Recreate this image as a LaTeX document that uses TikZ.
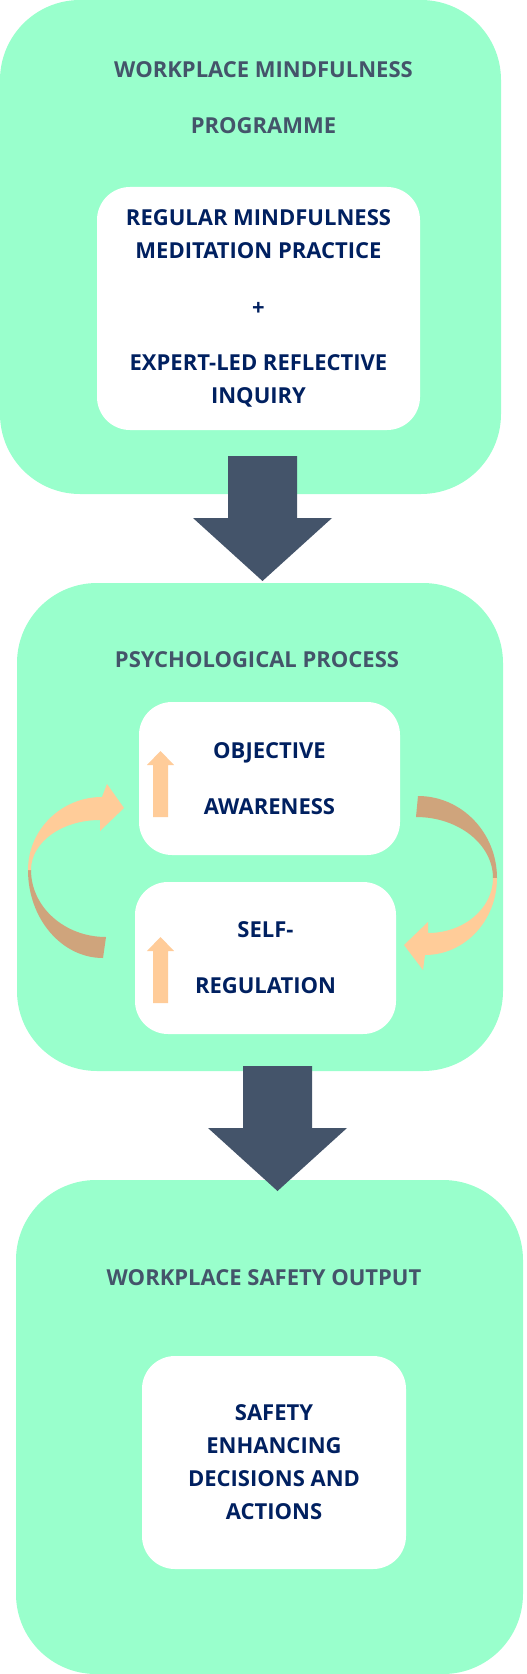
\documentclass[tikz,border=0pt]{standalone}
\usepackage{fontspec}
\setmainfont{Open Sans}
\usetikzlibrary{positioning}
\definecolor{mint}{HTML}{99FFCC}
\definecolor{slate}{HTML}{44546A}
\definecolor{navyblue}{HTML}{002060}
\definecolor{peach}{HTML}{FFCC99}
\definecolor{peachdark}{HTML}{CFA47C}
\tikzset{
  panel/.style={fill=mint, rounded corners=40pt, inner sep=0pt},
  card/.style={fill=white, rounded corners=16.5pt, inner sep=0pt, text=navyblue,
    font=\bfseries\fontsize{11}{16.5}\selectfont, align=center},
  heading/.style={text=slate, font=\bfseries\fontsize{11}{14}\selectfont, align=center},
}
\begin{document}
\begin{tikzpicture}[x=0.5pt,y=-0.5pt]
  \useasboundingbox (0,0) rectangle (526,1674);
  % the three stages
  \node (prog) [panel, minimum width=250.5pt, minimum height=247pt] at (250.5,247) {};
  \node (proc) [panel, minimum width=243pt, minimum height=244pt] at (260,827) {};
  \node (safe) [panel, minimum width=253.5pt, minimum height=247pt] at (269.5,1427) {};
  \node (progtitle) [heading] at (263.5,98) {WORKPLACE MINDFULNESS\\[14pt] PROGRAMME};
  \node (proctitle) [heading] at (257,660) {PSYCHOLOGICAL PROCESS};
  \node (safetitle) [heading] at (264,1278) {WORKPLACE SAFETY OUTPUT};

  \node (practice) [card, minimum width=161.5pt, minimum height=121.5pt] at (258.5,308.5)
    {REGULAR MINDFULNESS\\ MEDITATION PRACTICE\\[12pt] +\\[11pt] EXPERT-LED REFLECTIVE\\ INQUIRY};
  \node (aware) [card, minimum width=130.5pt, minimum height=76.5pt] at (269.5,778.5)
    {OBJECTIVE\\[11.5pt] AWARENESS};
  \node (selfreg) [card, minimum width=130.5pt, minimum height=76pt] at (265.5,958)
    {SELF-\\[11.5pt] REGULATION};
  \node (actions) [card, minimum width=132pt, minimum height=106.5pt] at (274,1462.5)
    {SAFETY\\ ENHANCING\\ DECISIONS AND\\ ACTIONS};

  % down arrows between the stages
  \foreach \x/\t in {262.5/456, 277.5/1066}
    \fill[slate] (\x-34.5,\t) -- (\x+34.5,\t) -- (\x+34.5,\t+62) -- (\x+69.5,\t+62)
      -- (\x,\t+125) -- (\x-69.5,\t+62) -- (\x-34.5,\t+62) -- cycle;

  % small up arrows
  \foreach \y in {751,937}
    \fill[peach] (153,\y+66) -- (153,\y+14) -- (147,\y+14) -- (160.5,\y)
      -- (174,\y+14) -- (168,\y+14) -- (168,\y+66) -- cycle;

  % loop arrows
  \fill[peachdark] (28,870) .. controls (28,918.6) and (61.6,958) .. (103,958)
    -- (106,937) .. controls (64.6,937) and (31,907) .. (31,870) -- cycle;
  \fill[peach] (28,870) .. controls (28,830) and (61,797) .. (102,797)
    -- (107,784) -- (124,808) -- (100,831) -- (100,820)
    .. controls (62,820) and (31,842) .. (31,870) -- cycle;
  \fill[peachdark] (418,796) .. controls (461.6,796) and (497,832.7) .. (497,878)
    -- (493,878) .. controls (493,844.3) and (458.5,817) .. (416,817) -- cycle;
  \fill[peach] (497,878) .. controls (497,920.5) and (464.8,955) .. (425,955)
    -- (423,970) -- (404,945) -- (428,922) -- (428,933)
    .. controls (463.9,933) and (493,908.4) .. (493,878) -- cycle;
\end{tikzpicture}
\end{document}
